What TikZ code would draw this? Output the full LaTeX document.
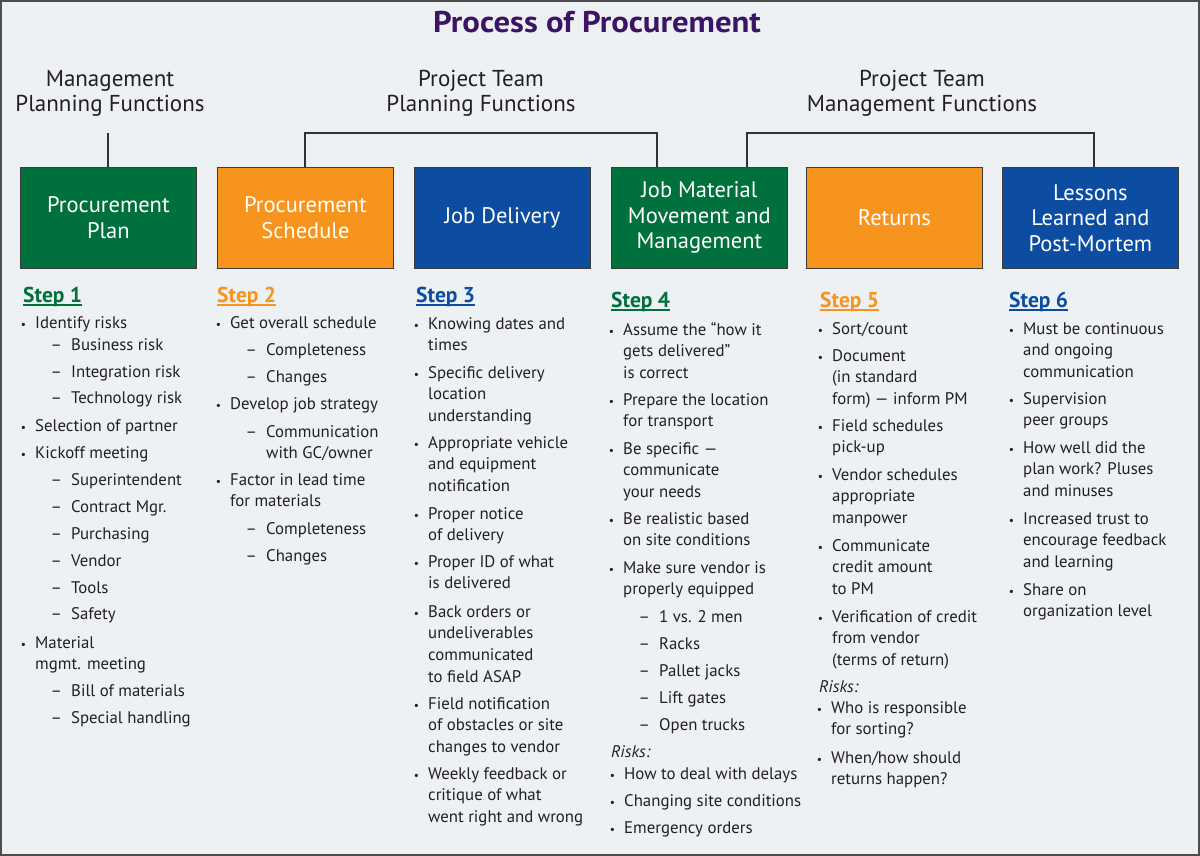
\documentclass[tikz,border=0pt]{standalone}
\usepackage{fontspec}
\setmainfont{PT Sans}
\usepackage{graphicx}
\definecolor{bg}{HTML}{EEF1F4}
\definecolor{cgreen}{HTML}{00703C}
\definecolor{corange}{HTML}{F7941D}
\definecolor{cblue}{HTML}{0C4DA2}
\definecolor{cpurple}{HTML}{3B1466}
\definecolor{txtc}{HTML}{231F20}
\definecolor{lnc}{HTML}{333333}
\definecolor{framec}{HTML}{4D4D4D}
\definecolor{boxline}{HTML}{3C3C3C}
\newcommand\tl[1]{\begin{tabular}[t]{@{}l@{}}#1\end{tabular}}
\newcommand\tc[1]{\begin{tabular}[t]{@{}c@{}}#1\end{tabular}}
\newcommand\itm[4]{\node[body] (#1) at (#2,-#3) {\tl{#4}};
  \node[bdot] (#1d) at ([xshift=-11.5pt]#1.base west) {•};}
\newcommand\sub[4]{\node[body] (#1) at (#2,-#3) {\tl{#4}};
  \node[body] (#1d) at ([xshift=-20pt]#1.base west) {\scalebox{0.75}[1]{—}};}
\newcommand\stp[5]{\node[stepl, text=#5] (#1) at (#2,-#3) {#4};
  \draw[#5, line width=1.5pt] ([yshift=-2.8pt]#1.base west) -- ([yshift=-2.8pt]#1.base east);}
\tikzset{
  body/.style={anchor=base west, inner sep=0pt, text=txtc, font=\fontsize{16.8}{21.7}\selectfont},
  bdot/.style={anchor=base, inner sep=0pt, text=txtc, font=\fontsize{11.5}{14}\selectfont},
  hdr/.style={anchor=base, inner sep=0pt, text=txtc, font=\fontsize{23}{25}\selectfont},
  box/.style={anchor=north west, minimum width=176pt, minimum height=101pt, inner sep=0pt,
    draw=boxline, line width=0.8pt, text=white, align=center, font=\fontsize{22.5}{25.5}\selectfont},
  stepl/.style={anchor=base west, inner sep=0pt, font=\fontsize{21.5}{24}\selectfont\bfseries},
  conn/.style={draw=lnc, line width=1.2pt},
}
\begin{document}
\begin{tikzpicture}[x=1pt,y=1pt]
\useasboundingbox (0,0) rectangle (1200,-856);
\fill[bg] (0,0) rectangle (1200,-856);
\draw[framec, line width=2pt] (1,-1) rectangle (1199,-855);
% title
\node[anchor=base, inner sep=0pt, text=cpurple, font=\fontsize{30}{34}\selectfont\bfseries] (title) at (597,-33) {\scalebox{1.09}[1]{Process of Procurement}};
% headers
\node[hdr] (h1) at (110,-87) {\tc{Management\\Planning Functions}};
\node[hdr] (h2) at (481,-87) {\tc{Project Team\\Planning Functions}};
\node[hdr] (h3) at (922,-87) {\tc{Project Team\\Management Functions}};
% boxes
\node[box, fill=cgreen] (box1) at (20,-167) {Procurement\\Plan};
\node[box, fill=corange] (box2) at (217,-167) {Procurement\\Schedule};
\node[box, fill=cblue] (box3) at (414,-167) {Job Delivery};
\node[box, fill=cgreen] (box4) at (611,-167) {Job Material\\Movement and\\Management};
\node[box, fill=corange] (box5) at (806,-167) {Returns};
\node[box, fill=cblue] (box6) at (1002,-167) {Lessons\\Learned and\\Post-Mortem};
% connectors
\coordinate (m1) at (108,-133);
\coordinate (p1) at (305,-133);
\coordinate (p2) at (657,-133);
\coordinate (q1) at (747,-133);
\coordinate (q2) at (1094,-133);
\draw[conn] (m1) -- (m1 |- box1.north);
\draw[conn] (p1 |- box2.north) -- (p1) -- (p2) -- (p2 |- box4.north);
\draw[conn] (q1 |- box4.north) -- (q1) -- (q2) -- (q2 |- box6.north);
% steps
\stp{s1}{23}{302}{Step 1}{cgreen}
\stp{s2}{217}{302}{Step 2}{corange}
\stp{s3}{416}{302}{Step 3}{cblue}
\stp{s4}{611}{307}{Step 4}{cgreen}
\stp{s5}{820}{307}{Step 5}{corange}
\stp{s6}{1009}{307}{Step 6}{cblue}
% column 1
\itm{a1}{35}{328}{Identify risks}
\sub{a1a}{71}{350}{Business risk}
\sub{a1b}{71}{377}{Integration risk}
\sub{a1c}{71}{403}{Technology risk}
\itm{a2}{35}{431}{Selection of partner}
\itm{a3}{35}{458}{Kickoff meeting}
\sub{a3a}{71}{485}{Superintendent}
\sub{a3b}{71}{512}{Contract Mgr.}
\sub{a3c}{71}{539}{Purchasing}
\sub{a3d}{71}{566}{Vendor}
\sub{a3e}{71}{593}{Tools}
\sub{a3f}{71}{619}{Safety}
\itm{a4}{35}{648}{Material\\mgmt. meeting}
\sub{a4a}{71}{696}{Bill of materials}
\sub{a4b}{71}{723}{Special handling}
% column 2
\itm{b1}{230}{328}{Get overall schedule}
\sub{b1a}{266}{355}{Completeness}
\sub{b1b}{266}{382}{Changes}
\itm{b2}{230}{409}{Develop job strategy}
\sub{b2a}{266}{437}{Communication\\with GC/owner}
\itm{b3}{230}{485}{Factor in lead time\\for materials}
\sub{b3a}{266}{534}{Completeness}
\sub{b3b}{266}{561}{Changes}
% column 3
\itm{c1}{428}{329}{Knowing dates and\\times}
\itm{c2}{428}{378}{Specific delivery\\location\\understanding}
\itm{c3}{428}{448}{Appropriate vehicle\\and equipment\\notification}
\itm{c4}{428}{519}{Proper notice\\of delivery}
\itm{c5}{428}{567}{Proper ID of what\\is delivered}
\itm{c6}{428}{617}{Back orders or\\undeliverables\\communicated\\to field ASAP}
\itm{c7}{428}{709}{Field notification\\of obstacles or site\\changes to vendor}
\itm{c8}{428}{779}{Weekly feedback or\\critique of what\\went right and wrong}
% column 4
\itm{d1}{623}{335}{Assume the “how it\\gets delivered”\\is correct}
\itm{d2}{623}{405}{Prepare the location\\for transport}
\itm{d3}{623}{454}{Be specific —\\communicate\\your needs}
\itm{d4}{623}{524}{Be realistic based\\on site conditions}
\itm{d5}{623}{573}{Make sure vendor is\\properly equipped}
\sub{d5a}{659}{622}{1 vs. 2 men}
\sub{d5b}{659}{649}{Racks}
\sub{d5c}{659}{676}{Pallet jacks}
\sub{d5d}{659}{703}{Lift gates}
\sub{d5e}{659}{730}{Open trucks}
\node[body] (d6) at (611,-757) {\textit{Risks:}};
\itm{d7}{624}{779}{How to deal with delays}
\itm{d8}{624}{806}{Changing site conditions}
\itm{d9}{624}{833}{Emergency orders}
% column 5
\itm{e1}{832}{334}{Sort/count}
\itm{e2}{832}{361}{Document\\(in standard\\form) — inform PM}
\itm{e3}{832}{431}{Field schedules\\pick-up}
\itm{e4}{832}{480}{Vendor schedules\\appropriate\\manpower}
\itm{e5}{832}{551}{Communicate\\credit amount\\to PM}
\itm{e6}{832}{622}{Verification of credit\\from vendor\\(terms of return)}
\node[body] (e7) at (819,-692) {\textit{Risks:}};
\itm{e8}{831}{713}{Who is responsible\\for sorting?}
\itm{e9}{831}{763}{When/how should\\returns happen?}
% column 6
\itm{f1}{1023}{334}{Must be continuous\\and ongoing\\communication}
\itm{f2}{1023}{404}{Supervision\\peer groups}
\itm{f3}{1023}{453}{How well did the\\plan work? Pluses\\and minuses}
\itm{f4}{1023}{524}{Increased trust to\\encourage feedback\\and learning}
\itm{f5}{1023}{595}{Share on\\organization level}
\end{tikzpicture}
\end{document}
